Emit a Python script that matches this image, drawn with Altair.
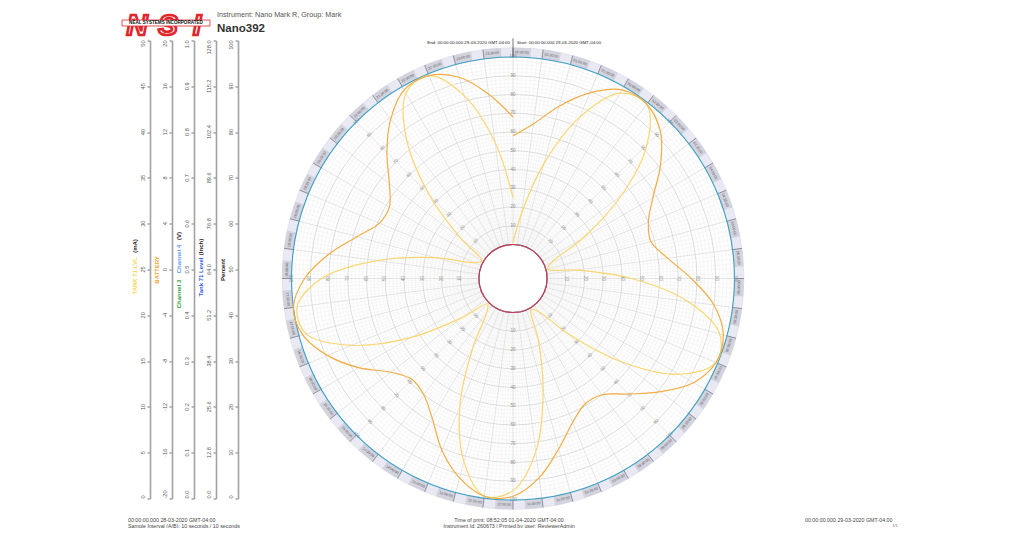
import math
import pandas as pd
import altair as alt

# ---------------- data ----------------
SAMPLE_HOURS = [h / 2 for h in range(49)]          # 00:00 .. 24:00, every 30 min
SERIES = ["TANK 71 LVL", "BATTERY"]
TANK_71_LVL = [1, 17, 45, 75, 96, 99, 83, 55, 25, 4,
               1, 16, 45, 76, 96, 99, 84, 55, 24, 4,
               1, 17, 44, 75, 95, 99, 83, 56, 25, 5,
               1, 16, 45, 75, 96, 98, 84, 55, 25, 4,
               1, 17, 45, 75, 96, 99, 83, 55, 25]
BATTERY = [58, 65, 77, 89, 98, 99, 93, 81, 68, 60,
           58, 65, 77, 90, 98, 99, 93, 81, 69, 60,
           59, 65, 76, 89, 98, 99, 92, 81, 68, 60,
           58, 64, 77, 89, 98, 100, 93, 81, 68, 59,
           58, 65, 77, 89, 98, 99, 93, 81, 68]

AX_TANK_MA = [0, 5, 10, 15, 20, 25, 30, 35, 40, 45, 50]
AX_BATTERY = [-20, -16, -12, -8, -4, 0, 4, 8, 12, 16, 20]
AX_CHANNEL = [0.0, 0.1, 0.2, 0.3, 0.4, 0.5, 0.6, 0.7, 0.8, 0.9, 1.0]
AX_TANK_INCH = [0.0, 12.8, 25.6, 38.4, 51.2, 64.0, 76.8, 89.6, 102.4, 115.2, 128.0]
AX_PERCENT = [0, 10, 20, 30, 40, 50, 60, 70, 80, 90, 100]

RING_VALUES = [10, 20, 30, 40, 50, 60, 70, 80, 90, 100]
LABEL_SPOKES = [0, 3, 6, 9, 12, 15, 18, 21]

HEADER = "Instrument: Nano Mark R, Group: Mark"
TITLE = "Nano392"
END_TXT = "End: 00:00:00.000 29-03-2020 GMT-04:00"
START_TXT = "Start: 00:00:00.000 29-03-2020 GMT-04:00"
FOOT_LEFT = ["00:00:00.000 28-03-2020 GMT-04:00", "Sample Interval (A/B): 10 seconds / 10 seconds"]
FOOT_CENTER = ["Time of print: 08:52:05 01-04-2020 GMT-04:00",
               "Instrument Id: 260673 | Printed by user: ReviewerAdmin"]
FOOT_RIGHT = "00:00:00.000 29-03-2020 GMT-04:00"
PAGE_NO = "1/1"
LOGO_LETTERS = ["N", "S", "I"]
LOGO_CAPTION = "NEAL SYSTEMS INCORPORATED"

# ---------------- style / layout ----------------
FONT = "Liberation Sans"
SERIES_COLORS = ["#FAD670", "#F2AC44"]
LOGO_RED = "#E1262C"
TAU = 2 * math.pi
R0, R1 = 34.0, 221.5
K = (R1 - R0) / 100.0
OX, OY = 238.0, 40.5          # page position of plot origin
PW, PH = 550, 458

XS = alt.Scale(domain=[-275, 275], nice=False, zero=False)
YS = alt.Scale(domain=[-220, 238], nice=False, zero=False)
RS = alt.Scale(type="linear", domain=[0, 100], range=[R0, R1], nice=False, zero=False)
TS = alt.Scale(type="linear", domain=[0, 24], range=[0, TAU], nice=False, zero=False)
CX = alt.XDatum(0, type="quantitative", scale=XS, axis=None)
CY = alt.YDatum(0, type="quantitative", scale=YS, axis=None)
ONE = pd.DataFrame({"k": [0]})


def rexpr(v):
    return f"({R0} + ({v}) * {K})"


def pxe(h, v):
    return f"{rexpr(v)} * sin(({h}) * PI / 12)"


def pye(h, v):
    return f"{rexpr(v)} * cos(({h}) * PI / 12)"


def readable(deg):
    deg = deg % 360
    return (deg + 180) % 360 if 90 < deg < 270 else deg


def fmt_hour(h):
    return f"{int(h):02d}:{int(round((h % 1) * 60)):02d}:00"


def text(t, x, y, size, color="#333", weight="normal", align="left", angle=None,
         style="normal", fill=None, stroke=None, sw=None, baseline="middle"):
    mk = dict(text=t, fontSize=size, fontWeight=weight, align=align, baseline=baseline,
              font=FONT, fontStyle=style)
    if fill is not None:
        mk["fill"] = fill
    else:
        mk["color"] = color
    if angle is not None:
        mk["angle"] = angle
    if stroke is not None:
        mk["stroke"] = stroke
        mk["strokeWidth"] = sw
    return alt.Chart(ONE).mark_text(**mk).encode(x=alt.value(x - OX), y=alt.value(y - OY))


# ---------------- left axes ----------------
def axis_group(ticks, labels, offset):
    df = pd.DataFrame({"v": ticks, "lab": labels})
    ysc = alt.Scale(domain=[ticks[0], ticks[-1]], nice=False, zero=False)
    ax = alt.Axis(orient="left", offset=offset, values=ticks, labels=False, title=None,
                  grid=False, domainColor="#a2a2a2", domainWidth=1.6, tickColor="#777",
                  tickSize=3, tickWidth=1)
    base = alt.Chart(df)
    y = alt.Y("v:Q", scale=ysc, axis=ax)
    xpos = -offset - 7.5
    lo, hi = ticks[0], ticks[-1]
    common = dict(angle=270, baseline="middle", fontSize=5.6, font=FONT, color="#555")
    line = base.mark_point(opacity=0).encode(y=y)
    mid = base.transform_filter(f"datum.v > {lo} && datum.v < {hi}").mark_text(
        align="center", **common).encode(y=y, x=alt.value(xpos), text="lab:N")
    top = base.transform_filter(f"datum.v == {hi}").mark_text(
        align="right", **common).encode(y=y, x=alt.value(xpos), text="lab:N")
    bot = base.transform_filter(f"datum.v == {lo}").mark_text(
        align="left", **common).encode(y=y, x=alt.value(xpos), text="lab:N")
    return alt.layer(line, mid, top, bot)


axis_groups = [
    axis_group(AX_TANK_MA, [str(v) for v in AX_TANK_MA], 88),
    axis_group(AX_BATTERY, [str(v) for v in AX_BATTERY], 66),
    axis_group(AX_CHANNEL, [f"{v:.1f}" for v in AX_CHANNEL], 44),
    axis_group(AX_TANK_INCH, [f"{v:.1f}" for v in AX_TANK_INCH], 22),
    axis_group(AX_PERCENT, [str(v) for v in AX_PERCENT], 0),
]

TITLE_SEGMENTS = [
    ("TANK 71 LVL", "#F8D34E", 135, 276), ("(mA)", "#222", 135, 246),
    ("BATTERY", "#F4A32A", 157, 270),
    ("Channel 3", "#2E9E3E", 179, 294), ("Channel 4", "#5C9BF5", 179, 259), ("(V)", "#222", 179, 236),
    ("Tank 71 Level", "#2B55E6", 201, 277), ("(Inch)", "#222", 201, 247),
    ("Percent", "#111", 223, 270),
]
title_layers = [text(t, x, y, 6, color=c, weight="bold", align="center", angle=270)
                for t, c, x, y in TITLE_SEGMENTS]

# ---------------- polar chart ----------------
band_bg = alt.Chart(ONE).mark_arc(theta=0, theta2=TAU + 0.01, fill="#E9E9F4",
                                  stroke="#DCDCEA", strokeWidth=0.6).encode(
    x=CX, y=CY,
    radius=alt.RadiusDatum(105, type="quantitative", scale=RS, stack=None),
    radius2=alt.Radius2Datum(100))

box_hours = [h / 2 for h in range(48)]
box_df = pd.DataFrame({"h": box_hours, "h2": [h + 0.3 for h in box_hours]})
band_boxes = alt.Chart(box_df).mark_arc(fill="#D3D3DE").encode(
    x=CX, y=CY,
    theta=alt.Theta("h:Q", scale=TS, stack=None),
    theta2="h2:Q",
    radius=alt.RadiusDatum(105, type="quantitative", scale=RS, stack=None),
    radius2=alt.Radius2Datum(100))


def spokes(hours, color, width, v0, v1):
    df = pd.DataFrame({"h": hours})
    return alt.Chart(df).transform_calculate(
        x0=pxe("datum.h", v0), y0=pye("datum.h", v0),
        x1=pxe("datum.h", v1), y1=pye("datum.h", v1),
    ).mark_rule(color=color, strokeWidth=width).encode(
        x=alt.X("x0:Q", scale=XS, axis=None), y=alt.Y("y0:Q", scale=YS, axis=None),
        x2="x1:Q", y2="y1:Q")


def circles(values, color, width):
    return alt.Chart(pd.DataFrame({"v": values})).mark_arc(
        theta=0, theta2=TAU + 0.01, fill="transparent", stroke=color, strokeWidth=width).encode(
        x=CX, y=CY, radius=alt.Radius("v:Q", scale=RS, stack=None))


minor_circles = circles([v for v in range(2, 100, 2) if v % 10], "#EDEDED", 0.5)
major_circles = circles(list(range(10, 100, 10)), "#CFCFCF", 0.7)
minor_spokes = spokes([m / 12 for m in range(288) if m % 6], "#EFEFEF", 0.5, 0, 100)
major_spokes = spokes([h / 2 for h in range(48)], "#D2D2D2", 0.6, 0, 100)
band_ticks = spokes([h / 2 for h in range(48)], "#7A7A88", 0.8, 100, 105)
divider = spokes([0], "#444", 0.7, 100, 110)

vl_rows = [(h, v, str(v), readable(h * 15)) for h in LABEL_SPOKES for v in RING_VALUES]
vl_df = pd.DataFrame(vl_rows, columns=["h", "v", "t", "rot"])
value_labels = alt.Chart(vl_df).transform_calculate(
    lx=pxe("datum.h", "datum.v"), ly=pye("datum.h", "datum.v"),
).mark_text(fontSize=4.5, font=FONT, color="#8A8A8A", align="center", baseline="middle").encode(
    x=alt.X("lx:Q", scale=XS, axis=None), y=alt.Y("ly:Q", scale=YS, axis=None),
    text="t:N", angle=alt.Angle("rot:Q", scale=None))

bl_df = pd.DataFrame({"hc": [h + 0.15 for h in box_hours],
                      "t": [fmt_hour(h) for h in box_hours],
                      "rot": [readable((h + 0.15) * 15) for h in box_hours]})
band_labels = alt.Chart(bl_df).transform_calculate(
    lx=pxe("datum.hc", 102.5), ly=pye("datum.hc", 102.5),
).mark_text(fontSize=3.6, font=FONT, color="#555", align="center", baseline="middle").encode(
    x=alt.X("lx:Q", scale=XS, axis=None), y=alt.Y("ly:Q", scale=YS, axis=None),
    text="t:N", angle=alt.Angle("rot:Q", scale=None))

blue_ring = alt.Chart(ONE).mark_arc(theta=0, theta2=TAU + 0.01, fill="transparent",
                                    stroke="#3DA0C6", strokeWidth=1.1).encode(
    x=CX, y=CY, radius=alt.RadiusDatum(100, type="quantitative", scale=RS, stack=None))

curve_df = pd.DataFrame({
    "hour": SAMPLE_HOURS * 2,
    "value": TANK_71_LVL + BATTERY,
    "series": [SERIES[0]] * len(TANK_71_LVL) + [SERIES[1]] * len(BATTERY),
})
curves = alt.Chart(curve_df).transform_calculate(
    cx=pxe("datum.hour", "datum.value"), cy=pye("datum.hour", "datum.value"),
).mark_line(interpolate="catmull-rom", strokeWidth=1.2).encode(
    x=alt.X("cx:Q", scale=XS, axis=None),
    y=alt.Y("cy:Q", scale=YS, axis=None),
    color=alt.Color("series:N", scale=alt.Scale(domain=SERIES, range=SERIES_COLORS), legend=None),
    order=alt.Order("hour:Q"),
)

inner_disc = alt.Chart(ONE).mark_arc(theta=0, theta2=TAU + 0.01, fill="white",
                                     stroke="#D2354C", strokeWidth=1.1).encode(
    x=CX, y=CY, radius=alt.RadiusDatum(0, type="quantitative", scale=RS, stack=None))

# ---------------- logo, header, footer ----------------
logo_letters = [
    text(ch, x, 34.5, 29, fill="white", weight="bold", style="italic", align="center",
         stroke=LOGO_RED, sw=2.6, baseline="alphabetic")
    for ch, x in zip(LOGO_LETTERS, [137, 168, 197])
]
logo_band = alt.Chart(ONE).mark_rect(fill="white", stroke=LOGO_RED, strokeWidth=0.8).encode(
    x=alt.value(122 - OX), x2=alt.value(210 - OX), y=alt.value(20 - OY), y2=alt.value(26 - OY))
logo_caption = text(LOGO_CAPTION, 166, 23, 4.6, color="#111", weight="bold", align="center")

annotations = [
    text(HEADER, 217, 14.5, 7.2, color="#555"),
    text(TITLE, 217, 28.5, 11.5, color="#333", weight="bold"),
    text(END_TXT, 510, 42.5, 4.4, color="#222", align="right"),
    text(START_TXT, 517, 42.5, 4.4, color="#222", align="left"),
    text(FOOT_LEFT[0], 128, 519.5, 5.3, color="#444"),
    text(FOOT_LEFT[1], 128, 525.5, 5.3, color="#444"),
    text(FOOT_CENTER[0], 509, 519.5, 5.3, color="#444", align="center"),
    text(FOOT_CENTER[1], 509, 525.5, 5.3, color="#444", align="center"),
    text(FOOT_RIGHT, 805, 519.5, 5.3, color="#444"),
    text(PAGE_NO, 895, 525.5, 3.6, color="#666", align="center"),
]

polar = alt.layer(
    band_bg, band_boxes, minor_circles, minor_spokes, major_circles, major_spokes,
    value_labels, band_ticks, band_labels, blue_ring, curves, inner_disc, divider,
    *logo_letters, logo_band, logo_caption, *annotations, *title_layers,
)

chart = alt.layer(*axis_groups, polar).resolve_scale(y="independent").properties(
    width=PW, height=PH,
    background="white",
    autosize=alt.AutoSizeParams(type="none"),
    padding={"left": 230, "top": 32.5, "right": 228, "bottom": 29.5},
).configure_view(stroke=None, strokeWidth=0)

chart.save("out.html", embed_options={"renderer": "svg", "actions": False})
